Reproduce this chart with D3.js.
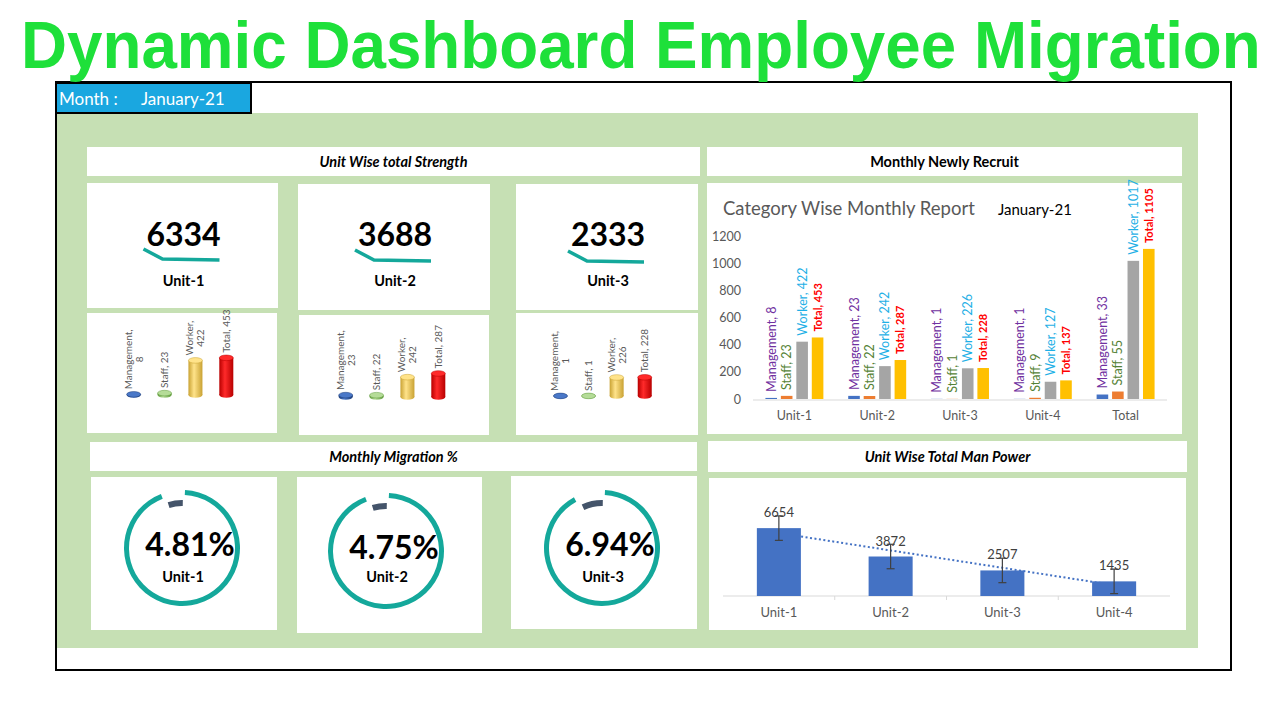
<!DOCTYPE html>
<html lang="en">
<head>
<meta charset="UTF-8">
<title>Dynamic Dashboard Employee Migration</title>
<script src="https://d3js.org/d3.v7.min.js"></script>
<style>
  body { margin: 0; background: #fff; }
  svg { display: block; }
  .cal { font-family: Lato, "Open Sans", sans-serif; }
</style>
</head>
<body>
<script>
// ---- data ----
const units = ["Unit-1", "Unit-2", "Unit-3"];
const strength = [6334, 3688, 2333];
const migrationPct = [4.81, 4.75, 6.94];

const recruitGroups = ["Unit-1", "Unit-2", "Unit-3", "Unit-4", "Total"];
const seriesNames = ["Management", "Staff", "Worker", "Total"];
const management = [8, 23, 1, 1, 33];
const staff = [23, 22, 1, 9, 55];
const worker = [422, 242, 226, 127, 1017];
const total = [453, 287, 228, 137, 1105];
const recruitTicks = [0, 200, 400, 600, 800, 1000, 1200];

const manPowerUnits = ["Unit-1", "Unit-2", "Unit-3", "Unit-4"];
const manPower = [6654, 3872, 2507, 1435];
const errorAmount = 1200;

const monthLabel = "January-21";

// ---- colours ----
const teal = "#14a89b";
const barColors = ["#4472c4", "#ed7d31", "#a5a5a5", "#ffc000"];
const labelColors = ["#7030a0", "#548235", "#1fb0e6", "#ff0000"];

const svg = d3.select("body").append("svg")
    .attr("width", 1280)
    .attr("height", 720);

const defs = svg.append("defs");
// cylinder gradients: [edge, middle]
const cylColors = [["#1f3f7a", "#4a78c8"], ["#5f9a3a", "#b5dc98"], ["#c9a233", "#ffe38a"], ["#b80000", "#ff2a2a"]];
cylColors.forEach((c, i) => {
    const g = defs.append("linearGradient").attr("id", "cyl" + i)
        .attr("x1", "0%").attr("x2", "100%").attr("y1", "0%").attr("y2", "0%");
    g.append("stop").attr("offset", "0%").attr("stop-color", c[0]);
    g.append("stop").attr("offset", "40%").attr("stop-color", c[1]);
    g.append("stop").attr("offset", "100%").attr("stop-color", c[0]);
});

// outer frame + green panel
svg.append("rect").attr("x", 56).attr("y", 82).attr("width", 1175).attr("height", 588)
    .attr("fill", "#fff").attr("stroke", "#000").attr("stroke-width", 2);
svg.append("rect").attr("x", 57).attr("y", 113).attr("width", 1141).attr("height", 535)
    .attr("fill", "#c6e0b4");

// month box
svg.append("rect").attr("x", 56).attr("y", 83).attr("width", 195).attr("height", 30)
    .attr("fill", "#1aa7e0").attr("stroke", "#000").attr("stroke-width", 2);
const monthText = svg.append("text").attr("class", "cal")
    .attr("y", 105)
    .attr("fill", "#fff").style("font-size", "17px");
monthText.append("tspan").attr("x", 59).text("Month :");
monthText.append("tspan").attr("x", 141).text(monthLabel);

// title: fit to 1240px wide, keep the tall look with a vertical stretch
const titleWidth = 1240;
const title = svg.append("text")
    .style("font-family", "'Liberation Sans', Arial, sans-serif")
    .style("font-weight", "bold")
    .style("font-size", "66px")
    .attr("fill", "#1ee03a")
    .text("Dynamic Dashboard Employee Migration");
const natural = title.node().getComputedTextLength();
title.style("font-size", (66 * titleWidth / natural) + "px")
    .attr("transform", `translate(21,68) scale(1,${natural / titleWidth})`);

// white boxes
function box(x, y, w, h) {
    svg.append("rect").attr("x", x).attr("y", y).attr("width", w).attr("height", h).attr("fill", "#fff");
}
function header(x, y, w, h, label, italic) {
    box(x, y, w, h);
    svg.append("text").attr("class", "cal")
        .attr("x", x + w / 2).attr("y", y + h / 2 + 5)
        .attr("text-anchor", "middle")
        .style("font-size", "14.5px").style("font-weight", "bold")
        .style("font-style", italic ? "italic" : "normal")
        .text(label);
}
header(87, 147, 613, 29, "Unit Wise total Strength", true);
header(707, 147, 475, 29, "Monthly Newly Recruit", false);
header(90, 442, 607, 29, "Monthly Migration %", true);
header(708, 441, 479, 31, "Unit Wise Total Man Power", true);

// ---- KPI cards ----
const kpiCards = [{x: 87, y: 183, w: 191, h: 125}, {x: 298, y: 184, w: 192, h: 126}, {x: 516, y: 184, w: 182, h: 126}];
kpiCards.forEach((c, i) => {
    box(c.x, c.y, c.w, c.h);
    const cx = c.x + c.w / 2 + 1;
    svg.append("text").attr("class", "cal")
        .attr("x", cx).attr("y", 246)
        .attr("text-anchor", "middle")
        .style("font-size", "32px").style("font-weight", "bold")
        .text(strength[i]);
    svg.append("polyline")
        .attr("points", [[cx - 40, 249 + i], [cx - 21, 259 + i], [cx + 36, 260 + i]].join(" "))
        .attr("fill", "none").attr("stroke", teal).attr("stroke-width", 3.5);
    svg.append("text").attr("class", "cal")
        .attr("x", cx).attr("y", 286)
        .attr("text-anchor", "middle")
        .style("font-size", "14.5px").style("font-weight", "bold")
        .text(units[i]);
});

// ---- cylinder cards ----
const cylCards = [{x: 87, y: 313, w: 190, h: 120, base: 395}, {x: 299, y: 315, w: 190, h: 120, base: 397}, {x: 516, y: 313, w: 182, h: 122, base: 396}];
const series = [management, staff, worker, total];
const cylScale = d3.scaleLinear().domain([0, 500]).range([0, 41]);
cylCards.forEach((c, u) => {
    box(c.x, c.y, c.w, c.h);
    const xb = d3.scaleBand().domain(seriesNames)
        .range([c.x + 22, c.x + c.w - 26 - (190 - c.w) * 0.6]).padding(0.6);
    seriesNames.forEach((s, k) => {
        const v = series[k][u];
        const cx = xb(s) + xb.bandwidth() / 2;
        const h = cylScale(v);
        const top = c.base - h;
        const rx = 7, ry = 2.8;
        const g = svg.append("g");
        g.append("ellipse").attr("cx", cx).attr("cy", c.base).attr("rx", rx).attr("ry", ry)
            .attr("fill", "url(#cyl" + k + ")");
        g.append("rect").attr("x", cx - rx).attr("y", top).attr("width", rx * 2).attr("height", h)
            .attr("fill", "url(#cyl" + k + ")");
        g.append("ellipse").attr("cx", cx).attr("cy", top).attr("rx", rx).attr("ry", ry)
            .attr("fill", cylColors[k][1]).attr("stroke", cylColors[k][0]).attr("stroke-width", 0.5);

        const twoLines = (s === "Management" || s === "Worker");
        const lines = twoLines ? [s + ",", String(v)] : [s + ", " + v];
        const y0 = top - 5;
        const t1 = svg.append("text").attr("class", "cal")
            .style("font-size", "10px").attr("fill", "#595959")
            .attr("text-anchor", "middle")
            .text(lines[0]);
        const len = t1.node().getComputedTextLength();
        const mid = y0 - len / 2;
        if (twoLines) {
            t1.attr("transform", `translate(${cx - 2},${mid}) rotate(-90)`);
            svg.append("text").attr("class", "cal")
                .style("font-size", "10px").attr("fill", "#595959")
                .attr("text-anchor", "middle")
                .attr("transform", `translate(${cx + 9},${mid}) rotate(-90)`)
                .text(lines[1]);
        } else {
            t1.attr("transform", `translate(${cx + 3.5},${mid}) rotate(-90)`);
        }
    });
});

// ---- Category Wise Monthly Report ----
box(707, 183, 475, 251);
svg.append("text").attr("class", "cal")
    .attr("x", 723).attr("y", 215)
    .attr("fill", "#595959").style("font-size", "18.5px")
    .text("Category Wise Monthly Report");
svg.append("text").attr("class", "cal")
    .attr("x", 998).attr("y", 215)
    .attr("fill", "#000").style("font-size", "15px")
    .text(monthLabel);

const x0 = d3.scaleBand().domain(recruitGroups).range([753, 1167]).paddingInner(0.3).paddingOuter(0.15);
const x1 = d3.scaleBand().domain(seriesNames).range([0, x0.bandwidth()]).paddingInner(0.25);
const yR = d3.scaleLinear().domain([0, 1200]).range([399, 236]);

const yAxisR = svg.append("g")
    .attr("transform", "translate(747,0)")
    .call(d3.axisLeft(yR).tickValues(recruitTicks).tickFormat(d3.format("d")).tickSize(0).tickPadding(0));
yAxisR.select(".domain").remove();
yAxisR.selectAll("text").attr("class", "cal").style("font-size", "12.5px").attr("fill", "#595959").attr("x", -6);

const xAxisR = svg.append("g")
    .attr("transform", "translate(0,400)")
    .call(d3.axisBottom(x0).tickSize(0).tickPadding(11));
xAxisR.select(".domain").attr("stroke", "#d9d9d9").attr("d", "M753,0H1167");
xAxisR.selectAll("text").attr("class", "cal").style("font-size", "12.5px").attr("fill", "#595959");

const recruitRows = recruitGroups.map((gname, i) => ({
    group: gname,
    values: seriesNames.map((s, k) => ({series: s, k: k, value: series[k][i]}))
}));
const grp = svg.append("g").selectAll("g").data(recruitRows).join("g")
    .attr("transform", d => `translate(${x0(d.group)},0)`);
grp.selectAll("rect").data(d => d.values).join("rect")
    .attr("x", d => x1(d.series))
    .attr("width", x1.bandwidth())
    .attr("y", d => yR(d.value))
    .attr("height", d => yR(0) - yR(d.value))
    .attr("fill", d => barColors[d.k]);
grp.selectAll("text").data(d => d.values).join("text")
    .attr("class", "cal")
    .attr("transform", d => `translate(${x1(d.series) + x1.bandwidth() / 2 + (d.k === 3 ? 4 : 4.5)},${yR(d.value) - 6}) rotate(-90)`)
    .attr("fill", d => labelColors[d.k])
    .style("font-size", d => d.k === 3 ? "11px" : "12.5px")
    .style("font-weight", d => d.k === 3 ? "bold" : "normal")
    .text(d => d.series + ", " + d.value);

// ---- Monthly Migration % gauges ----
const gaugeCards = [{x: 91, y: 477, w: 186, h: 153, cx: 182, cy: 548}, {x: 297, y: 477, w: 185, h: 156, cx: 386, cy: 551}, {x: 511, y: 476, w: 186, h: 153, cx: 602, cy: 548}];
const deg = Math.PI / 180;
gaugeCards.forEach((c, i) => {
    box(c.x, c.y, c.w, c.h);
    const p = migrationPct[i] / 100;
    const ring = d3.arc().innerRadius(53).outerRadius(58)
        .startAngle(3 * deg).endAngle(2 * Math.PI - p * 2 * Math.PI - 4 * deg);
    svg.append("path").attr("transform", `translate(${c.cx},${c.cy})`)
        .attr("d", ring()).attr("fill", teal);
    const seg = d3.arc().innerRadius(42).outerRadius(48)
        .startAngle(-p * 2 * Math.PI).endAngle(1 * deg);
    svg.append("path").attr("transform", `translate(${c.cx},${c.cy})`)
        .attr("d", seg()).attr("fill", "#44546a");
    svg.append("text").attr("class", "cal")
        .attr("x", c.cx + 8).attr("y", c.cy + 8)
        .attr("text-anchor", "middle")
        .style("font-size", "32px").style("font-weight", "bold")
        .text(migrationPct[i].toFixed(2) + "%");
    svg.append("text").attr("class", "cal")
        .attr("x", c.cx + 1).attr("y", 582)
        .attr("text-anchor", "middle")
        .style("font-size", "14.5px").style("font-weight", "bold")
        .text(units[i]);
});

// ---- Unit Wise Total Man Power ----
box(709, 478, 477, 152);
const xM = d3.scaleBand().domain(manPowerUnits).range([723, 1170]).paddingInner(0.606).paddingOuter(0.303);
const yM = d3.scaleLinear().domain([0, 10000]).range([596, 494]);

const xAxisM = svg.append("g")
    .attr("transform", "translate(0,596)")
    .call(d3.axisBottom(xM).tickSize(0).tickPadding(12));
xAxisM.select(".domain").attr("stroke", "#d9d9d9").attr("d", "M723,0H1170");
xAxisM.selectAll("text").attr("class", "cal").style("font-size", "13px").attr("fill", "#595959");
// category boundary ticks
const step = xM.step();
d3.range(1, manPowerUnits.length).forEach(j => {
    const bx = 723 + j * step;
    svg.append("line").attr("x1", bx).attr("x2", bx).attr("y1", 596).attr("y2", 600).attr("stroke", "#d9d9d9");
});

// linear trendline (least squares over category index)
const n = manPower.length;
const xs = d3.range(1, n + 1);
const mx = d3.mean(xs), my = d3.mean(manPower);
const slope = d3.sum(xs, (xv, i) => (xv - mx) * (manPower[i] - my)) / d3.sum(xs, xv => (xv - mx) * (xv - mx));
const icpt = my - slope * mx;
const cxM = i => xM(manPowerUnits[i]) + xM.bandwidth() / 2;
svg.append("line")
    .attr("x1", cxM(0)).attr("y1", yM(icpt + slope * 1))
    .attr("x2", cxM(n - 1)).attr("y2", yM(icpt + slope * n))
    .attr("stroke", "#4472c4").attr("stroke-width", 2).attr("stroke-dasharray", "2,2.5");

svg.append("g").selectAll("rect").data(manPower).join("rect")
    .attr("x", (d, i) => xM(manPowerUnits[i]))
    .attr("width", xM.bandwidth())
    .attr("y", d => yM(d))
    .attr("height", d => yM(0) - yM(d))
    .attr("fill", "#4472c4");

// error bars
const eb = svg.append("g").attr("stroke", "#404040").attr("stroke-width", 1.2);
manPower.forEach((d, i) => {
    const cx = cxM(i);
    const y1 = yM(d + errorAmount), y2 = yM(d - errorAmount);
    eb.append("line").attr("x1", cx).attr("x2", cx).attr("y1", y1).attr("y2", y2);
    eb.append("line").attr("x1", cx - 4).attr("x2", cx + 4).attr("y1", y1).attr("y2", y1);
    eb.append("line").attr("x1", cx - 4).attr("x2", cx + 4).attr("y1", y2).attr("y2", y2);
});

svg.append("g").selectAll("text").data(manPower).join("text")
    .attr("class", "cal")
    .attr("x", (d, i) => cxM(i))
    .attr("y", d => yM(d) - 11)
    .attr("text-anchor", "middle")
    .attr("fill", "#404040")
    .style("font-size", "13px")
    .text(d => d);
</script>
</body>
</html>
